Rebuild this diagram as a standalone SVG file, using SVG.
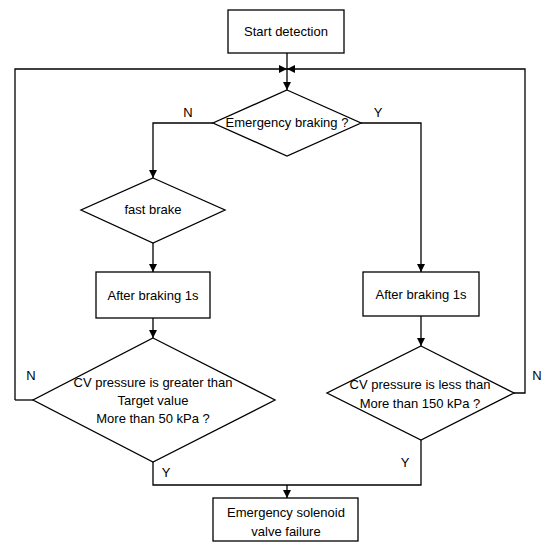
<svg xmlns="http://www.w3.org/2000/svg" width="549" height="550" viewBox="0 0 549 550">
<style>
.s{fill:#fff;stroke:#000;stroke-width:1.3}
.c{fill:none;stroke:#000;stroke-width:1.3}
text{font-family:"Liberation Sans",Arial,sans-serif;font-size:13px;fill:#000;text-anchor:middle}
</style>
<defs>
<marker id="a" viewBox="0 0 10 10" refX="10" refY="5" markerWidth="8" markerHeight="8" markerUnits="userSpaceOnUse" orient="auto">
<path d="M0,0L10,5L0,10z" fill="#000"/>
</marker>
</defs>
<rect width="549" height="550" fill="#fff"/>
<g id="connectors">
<path class="c" d="M287,53V90" marker-end="url(#a)"/>
<path class="c" d="M15,400V69H287" marker-end="url(#a)"/>
<path class="c" d="M514,393H525V69H287" marker-end="url(#a)"/>
<path class="c" d="M33,400H15"/>
<path class="c" d="M213,123H153V178" marker-end="url(#a)"/>
<path class="c" d="M153,243V272" marker-end="url(#a)"/>
<path class="c" d="M153,318V338" marker-end="url(#a)"/>
<path class="c" d="M361,123H421V272" marker-end="url(#a)"/>
<path class="c" d="M421,316V346" marker-end="url(#a)"/>
<path class="c" d="M153,462V485H421V440"/>
<path class="c" d="M287,485V498" marker-end="url(#a)"/>
<text x="188" y="117">N</text>
<text x="378" y="117">Y</text>
<text x="31" y="380">N</text>
<text x="537" y="380">N</text>
<text x="166" y="477">Y</text>
<text x="405" y="467">Y</text>
</g>
<g id="start"><rect class="s" x="228" y="10" width="116" height="43"/><text x="286" y="36">Start detection</text></g>
<g id="emergency"><path class="s" d="M287,90L361,123L287,156L213,123Z"/><text x="287" y="127">Emergency braking ?</text></g>
<g id="fast"><path class="s" d="M153,178L225,210L153,243L81,210Z"/><text x="153" y="214">fast brake</text></g>
<g id="after1"><rect class="s" x="96" y="272" width="114" height="46"/><text x="153" y="300">After braking 1s</text></g>
<g id="after2"><rect class="s" x="363" y="272" width="116" height="44"/><text x="421" y="299">After braking 1s</text></g>
<g id="cvleft"><path class="s" d="M153,338L275,400L153,462L33,400Z"/><text x="153" y="387">CV pressure is greater than</text><text x="153" y="405">Target value</text><text x="153" y="423">More than 50 kPa ?</text></g>
<g id="cvright"><path class="s" d="M421,346L514,393L421,440L327,393Z"/><text x="420" y="389">CV pressure is less than</text><text x="420" y="408">More than 150 kPa ?</text></g>
<g id="failure"><rect class="s" x="213" y="498" width="145" height="43"/><text x="286" y="517">Emergency solenoid</text><text x="286" y="536">valve failure</text></g>
</svg>
